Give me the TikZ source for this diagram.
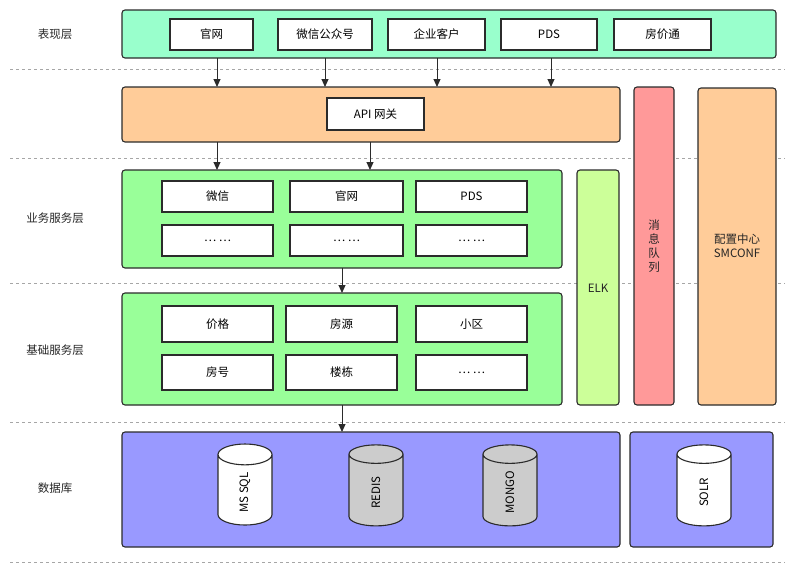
\documentclass[tikz,border=0pt]{standalone}
\usepackage{fontspec}
\setmainfont{Noto Sans CJK SC}
\usetikzlibrary{shapes.geometric,arrows.meta}
\definecolor{mint}{HTML}{99FFCC}
\definecolor{peach}{HTML}{FFCC99}
\definecolor{pinkr}{HTML}{FF9999}
\definecolor{lgreen}{HTML}{CCFF99}
\definecolor{green2}{HTML}{99FF99}
\definecolor{blu}{HTML}{9999FF}
\definecolor{edge}{HTML}{2B2B2B}
\begin{document}
\begin{tikzpicture}[x=1pt,y=-1pt,
  blk/.style={draw=edge,line width=1.1pt,rounded corners=3pt},
  it/.style={draw=edge,line width=1.1pt,fill=white,font=\fontsize{11.5}{13}\selectfont},
  lbl/.style={font=\fontsize{11.5}{14}\selectfont,text=black!85},
  dl/.style={dashed,draw=gray!70,line width=0.6pt},
  ar/.style={-{Triangle[length=8pt,width=7pt]},draw=edge,line width=1pt},
  cyl/.style={cylinder,draw=edge,line width=1.1pt,rotate=90,minimum height=81pt,minimum width=54pt,aspect=1.2,font=\fontsize{11.5}{13}\selectfont}]
\useasboundingbox (0,0) rectangle (792,570);
% dashed lines
\foreach \yy in {69,158,283,422,562} \draw[dl] (10,\yy) -- (785,\yy);
% left labels
\node[lbl] (l1) at (55,34) {表现层};
\node[lbl] (l2) at (55,218) {业务服务层};
\node[lbl] (l3) at (55,350) {基础服务层};
\node[lbl] (l4) at (55,488) {数据库};
% presentation layer
\draw[blk,fill=mint] (122,10) rectangle (776,58);
\node[it,minimum width=83pt,minimum height=31pt] (p1) at (211.5,34.5) {官网};
\node[it,minimum width=94pt,minimum height=31pt] (p2) at (325,34.5) {微信公众号};
\node[it,minimum width=97pt,minimum height=31pt] (p3) at (436.5,34.5) {企业客户};
\node[it,minimum width=96pt,minimum height=31pt] (p4) at (549,34.5) {PDS};
\node[it,minimum width=97pt,minimum height=31pt] (p5) at (662.5,34.5) {房价通};
% API
\draw[blk,fill=peach] (122,87) rectangle (620,142);
\node[it,minimum width=97pt,minimum height=32pt] (api) at (375.5,114) {API 网关};
% side columns
\draw[blk,fill=pinkr] (634,87) rectangle (674,405);
\node[lbl,align=center] (mq) at (654,246) {消\\息\\队\\列};
\draw[blk,fill=peach] (698,88) rectangle (776,405);
\node[lbl,align=center] (cfg) at (737,246) {配置中心\\SMCONF};
\draw[blk,fill=lgreen] (577,170) rectangle (619,405);
\node[lbl] (elk) at (598,288) {ELK};
% business layer
\draw[blk,fill=green2] (122,170) rectangle (562,268);
\node[it,minimum width=111pt,minimum height=31pt] (b1) at (217.5,196.5) {微信};
\node[it,minimum width=113pt,minimum height=31pt] (b2) at (346.5,196.5) {官网};
\node[it,minimum width=111pt,minimum height=31pt] (b3) at (471.5,196.5) {PDS};
\node[it,minimum width=111pt,minimum height=31pt] (b4) at (217.5,240.5) {… …};
\node[it,minimum width=113pt,minimum height=31pt] (b5) at (346.5,240.5) {… …};
\node[it,minimum width=111pt,minimum height=31pt] (b6) at (471.5,240.5) {… …};
% base layer
\draw[blk,fill=green2] (122,293) rectangle (562,405);
\node[it,minimum width=111pt,minimum height=36pt] (c1) at (217.5,324) {价格};
\node[it,minimum width=111pt,minimum height=36pt] (c2) at (341.5,324) {房源};
\node[it,minimum width=111pt,minimum height=36pt] (c3) at (471.5,324) {小区};
\node[it,minimum width=111pt,minimum height=35pt] (c4) at (217.5,372.5) {房号};
\node[it,minimum width=111pt,minimum height=35pt] (c5) at (341.5,372.5) {楼栋};
\node[it,minimum width=111pt,minimum height=35pt] (c6) at (471.5,372.5) {… …};
% database
\draw[blk,fill=blu] (122,432) rectangle (620,547);
\draw[blk,fill=blu] (630,432) rectangle (773,547);
\node[cyl,fill=white] (d1) at (245,492.5) {MS SQL};
\node[cyl,fill=gray!40] (d2) at (376,492.5) {REDIS};
\node[cyl,fill=gray!40] (d3) at (510,492.5) {MONGO};
\node[cyl,fill=white] (d4) at (704,492.5) {SOLR};
% arrows
\coordinate (a1) at (217,87); \coordinate (a2) at (325,87);
\coordinate (a3) at (437,87); \coordinate (a4) at (551,87);
\coordinate (s1) at (217,58); \coordinate (s2) at (325,58);
\coordinate (s3) at (437,58); \coordinate (s4) at (551,58);
\draw[ar] (s1) -- (a1); \draw[ar] (s2) -- (a2); \draw[ar] (s3) -- (a3); \draw[ar] (s4) -- (a4);
\coordinate (t1) at (217,142); \coordinate (t2) at (370,142);
\coordinate (u1) at (217,170); \coordinate (u2) at (370,170);
\draw[ar] (t1) -- (u1); \draw[ar] (t2) -- (u2);
\coordinate (v1) at (342,268); \coordinate (v2) at (342,293);
\draw[ar] (v1) -- (v2);
\coordinate (w1) at (342,405); \coordinate (w2) at (342,432);
\draw[ar] (w1) -- (w2);
\end{tikzpicture}
\end{document}
